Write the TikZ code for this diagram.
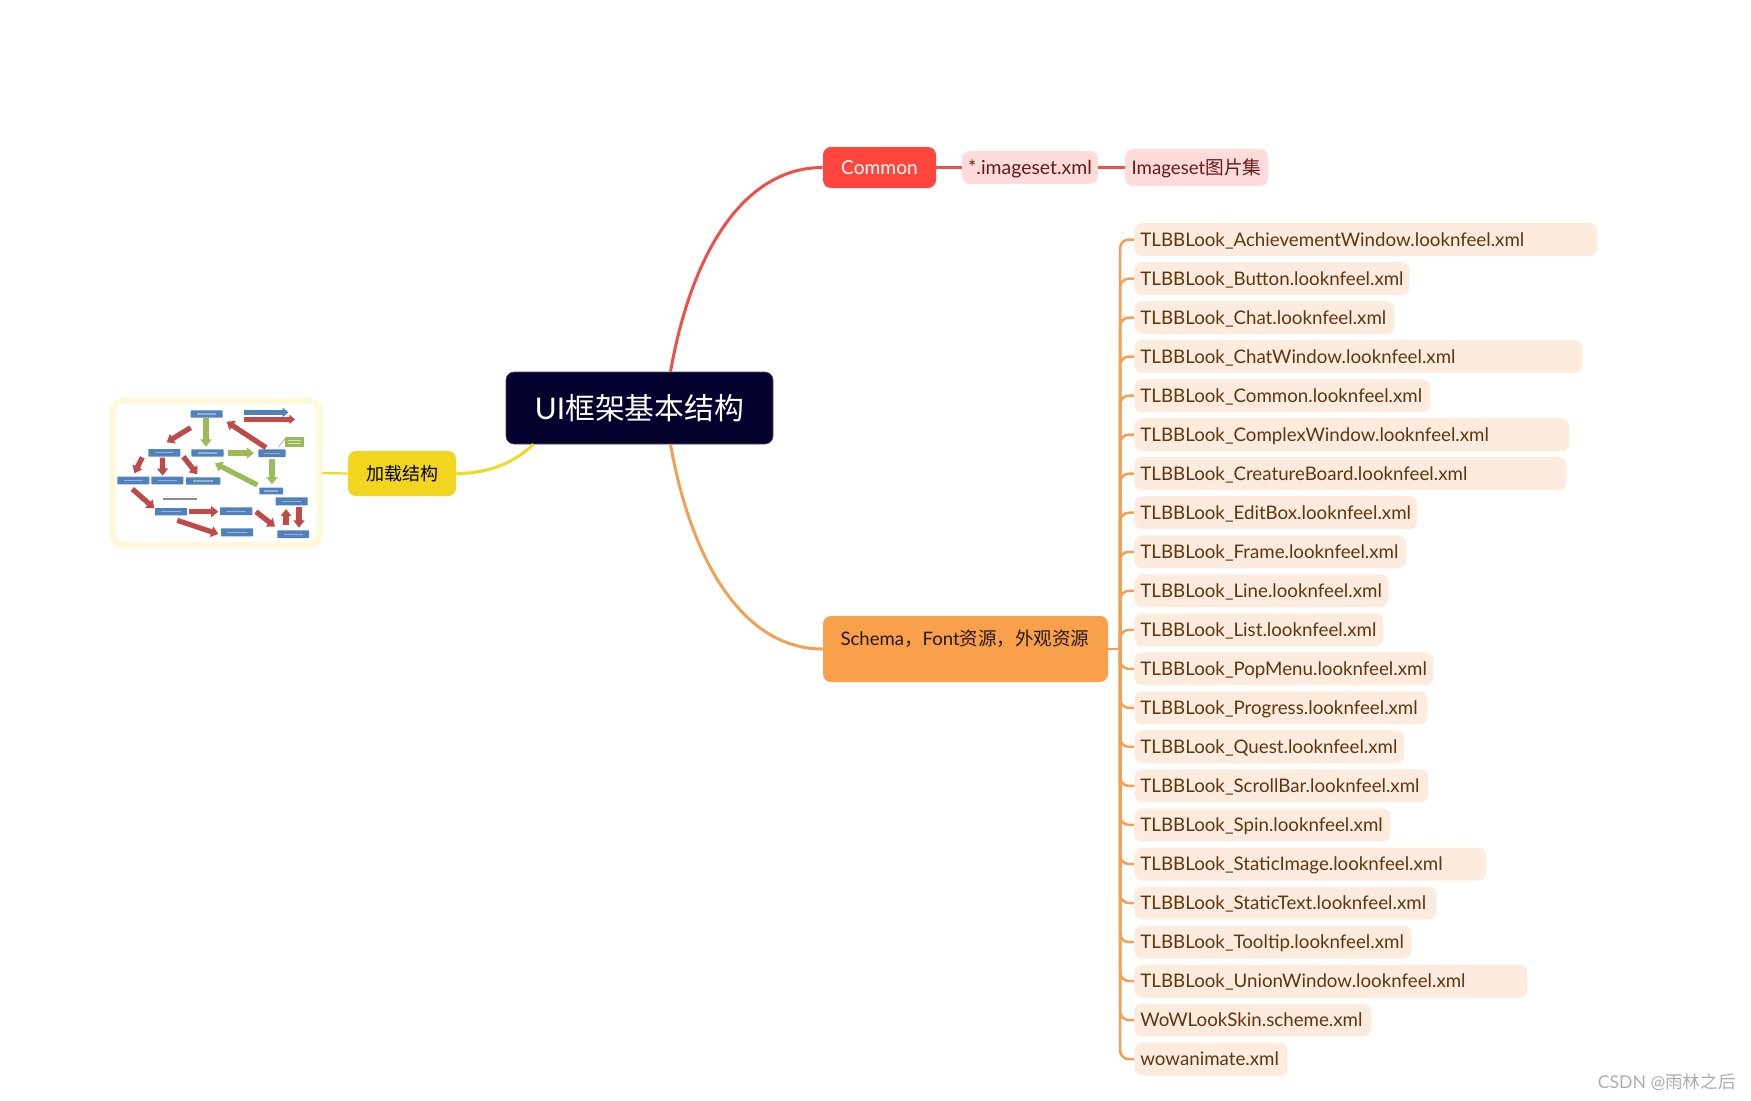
\documentclass[tikz,border=0pt]{standalone}
\usepackage{fontspec}
\setmainfont{Lato}
\newfontfamily\cjk{Noto Sans CJK SC}
\usetikzlibrary{arrows.meta,calc}
\definecolor{redline}{HTML}{EE4F4A}
\definecolor{orangeline}{HTML}{F3A055}
\definecolor{yellowline}{HTML}{F2D822}
\definecolor{rootfill}{HTML}{03002E}
\definecolor{commonfill}{HTML}{FF453C}
\definecolor{schemafill}{HTML}{F9A04C}
\definecolor{loadfill}{HTML}{F2D51F}
\definecolor{pinkfill}{HTML}{FFDCDB}
\definecolor{pinktext}{HTML}{661A18}
\definecolor{peachfill}{HTML}{FDECDD}
\definecolor{peachtext}{HTML}{5E3510}
\definecolor{framecol}{HTML}{FFF8D9}
\definecolor{thumbblue}{HTML}{4F81BD}
\definecolor{thumbred}{HTML}{BE4B48}
\definecolor{thumbgreen}{HTML}{9BBB59}
\tikzset{
  x=0.5pt,y=-0.5pt,
  mapbox/.style={rounded corners=4pt,inner sep=0pt,align=center},
  rootbox/.style={mapbox,fill=rootfill,draw=rootfill!70!white,line width=.3pt,text=white,minimum width=133.5pt,minimum height=36pt,font=\fontsize{14.9}{18}\selectfont},
  mainbox/.style={mapbox,font=\fontsize{9.6}{12}\selectfont},
  pinkbox/.style={mapbox,fill=pinkfill,text=pinktext,text height=7.7pt,text depth=.3pt},
  childbox/.style={rounded corners=4pt,fill=peachfill,text=peachtext,inner ysep=0pt,inner xsep=3pt,minimum height=16.5pt,text height=7.4pt,text depth=.6pt,anchor=west,align=left,font=\fontsize{9.36}{12}\selectfont},
  redlink/.style={draw=redline,line width=1.5pt},
  orangelink/.style={draw=orangeline,line width=1.25pt},
  branch/.style={orangelink,rounded corners=4.5pt},
  yellowlink/.style={draw=yellowline,line width=1.5pt},
  thumbbox/.style={fill=thumbblue,rounded corners=.3pt},
  redarrow/.style={draw=thumbred,line width=2.6pt,-{Triangle[width=5.4pt,length=3.6pt]}},
  greenarrow/.style={draw=thumbgreen,line width=2.6pt,-{Triangle[width=5.4pt,length=3.6pt]}},
  bluearrow/.style={draw=thumbblue,line width=2.4pt,-{Triangle[width=4.6pt,length=2.8pt]}},
}
\begin{document}
\begin{tikzpicture}
\useasboundingbox (0,0) rectangle (1751,1100);
\fill[white] (0,0) rectangle (1751,1100);

% main nodes
\node[rootbox] (root) at (639.5,408) {UI{\cjk 框架基本结构}};
\node[mainbox,fill=commonfill,text=white,minimum width=56.5pt,minimum height=20.5pt] (common) at (879.5,167.5) {Common};
\node[pinkbox,minimum width=68pt,minimum height=16.5pt,font=\fontsize{9.7}{12}\selectfont] (imgxml) at (1030,167.5) {*.imageset.xml};
\node[pinkbox,minimum width=71.5pt,minimum height=18.5pt,font=\fontsize{9.35}{12}\selectfont] (imgset) at (1196.5,167.5) {Imageset{\cjk 图片集}};
\node[mainbox,fill=schemafill,text=black!85!schemafill,minimum width=142.5pt,minimum height=33pt] (schema) at (965.5,649) {};
\node[text=black!85!schemafill,font=\fontsize{9.27}{12}\selectfont,inner sep=0pt] (schematext) at (965,639) {Schema{\cjk ，}Font{\cjk 资源，外观资源}};
\node[mapbox,fill=loadfill,text=black,minimum width=54pt,minimum height=22.5pt,font=\fontsize{9}{12}\selectfont\cjk] (load) at (402,473.5) {加载结构};

% children
\coordinate (trunk) at (1120,649);
\foreach \i/\r/\t in {
 0/1597/TLBBLook\_AchievementWindow.looknfeel.xml,
 1/1409/TLBBLook\_Button.looknfeel.xml,
 2/1394/TLBBLook\_Chat.looknfeel.xml,
 3/1582/TLBBLook\_ChatWindow.looknfeel.xml,
 4/1430/TLBBLook\_Common.looknfeel.xml,
 5/1569/TLBBLook\_ComplexWindow.looknfeel.xml,
 6/1566/TLBBLook\_CreatureBoard.looknfeel.xml,
 7/1417/TLBBLook\_EditBox.looknfeel.xml,
 8/1406/TLBBLook\_Frame.looknfeel.xml,
 9/1388/TLBBLook\_Line.looknfeel.xml,
 10/1383/TLBBLook\_List.looknfeel.xml,
 11/1433/TLBBLook\_PopMenu.looknfeel.xml,
 12/1427/TLBBLook\_Progress.looknfeel.xml,
 13/1404/TLBBLook\_Quest.looknfeel.xml,
 14/1428/TLBBLook\_ScrollBar.looknfeel.xml,
 15/1390/TLBBLook\_Spin.looknfeel.xml,
 16/1486/TLBBLook\_StaticImage.looknfeel.xml,
 17/1436/TLBBLook\_StaticText.looknfeel.xml,
 18/1411/TLBBLook\_Tooltip.looknfeel.xml,
 19/1527/TLBBLook\_UnionWindow.looknfeel.xml,
 20/1371/WoWLookSkin.scheme.xml,
 21/1287/wowanimate.xml}{
  \pgfmathsetmacro\tw{(\r-1134-12)*0.5}
  \pgfmathsetmacro\cy{239.5+\i*39.03}
  \node[childbox,text width=\tw pt] (c\i) at (1134,\cy) {\t};
  \draw[branch] (trunk) |- (c\i.west);
}
\draw[orangelink] (schema.east) -- (trunk);

% main connectors
\coordinate (rootTop) at ($(root.north)+(31,0)$);
\coordinate (rootBottom) at ($(root.south)+(31,0)$);
\coordinate (rootLeft) at ($(root.south)+(-106,0)$);
\draw[redlink] (rootTop) .. controls (692,250) and (745,167.5) .. (common.west);
\draw[orangelink,line width=1.5pt] (rootBottom) .. controls (692,565) and (745,649) .. (schema.west);
\draw[yellowlink] (rootLeft) .. controls (515,462) and (490,473.5) .. (load.east);
\draw[redlink] (common.east) -- (imgxml.west);
\draw[redlink] (imgxml.east) -- (imgset.west);

% thumbnail
\node[draw=framecol,line width=3pt,fill=white,rounded corners=5pt,minimum width=103.5pt,minimum height=72pt,inner sep=0pt] (thumb) at (216,473) {};
\draw[yellowlink,line width=1.1pt] (thumb.east) -- (load.west);
\begin{scope}[shift={(100,385)},x=0.16667pt,y=-0.16667pt]
  \foreach \xa/\ya/\xb/\yb in {272/76/368/98,145/192/241/215,274/193/371/215,475/193/557/216,52/275/148/298,154/275/250/298,258/277/361/299,478/308/549/328,527/337/623/361,165/369/261/391,360/367/457/390,532/436/627/459,363/430/459/454}{
    \fill[thumbbox] (\xa,\ya) rectangle (\xb,\yb);
    \draw[white,opacity=.4,line width=.6pt] ({\xa+(\xb-\xa)*.2},{(\ya+\yb)/2}) -- ({\xb-(\xb-\xa)*.2},{(\ya+\yb)/2});
  }
  \fill[thumbgreen] (555,157) rectangle (612,186);
  \draw[white,opacity=.6,line width=.5pt] (563,167) -- (604,167) (563,176) -- (600,176);
  \draw[gray!70,line width=.3pt] (535,187) -- (555,160);
  \draw[bluearrow] (433,82) -- (565,82);
  \draw[redarrow,line width=2.4pt,-{Triangle[width=4.6pt,length=2.8pt]}] (433,103) -- (585,103);
  \foreach \xa/\ya/\xb/\yb in {272/128/200/172,127/217/103/265,187/218/188/272,250/215/292/268,498/188/380/110,97/312/163/370,268/380/355/380,232/406/355/447,468/380/525/425,558/420/558/372,597/367/597/428}{
    \draw[redarrow] (\xa,\ya) -- (\xb,\yb);
  }
  \foreach \xa/\ya/\xb/\yb in {318/100/318/185,383/204/462/204,516/222/516/298,472/300/345/235}{
    \draw[greenarrow] (\xa,\ya) -- (\xb,\yb);
  }
  \draw[black!45,line width=.9pt] (190,341) -- (290,341);
\end{scope}

% watermark
\node[anchor=east,text=black!32,inner sep=0pt,font=\fontsize{8.8}{11}\selectfont] (mark) at (1736,1082) {CSDN @{\cjk 雨林之后}};
\end{tikzpicture}
\end{document}
